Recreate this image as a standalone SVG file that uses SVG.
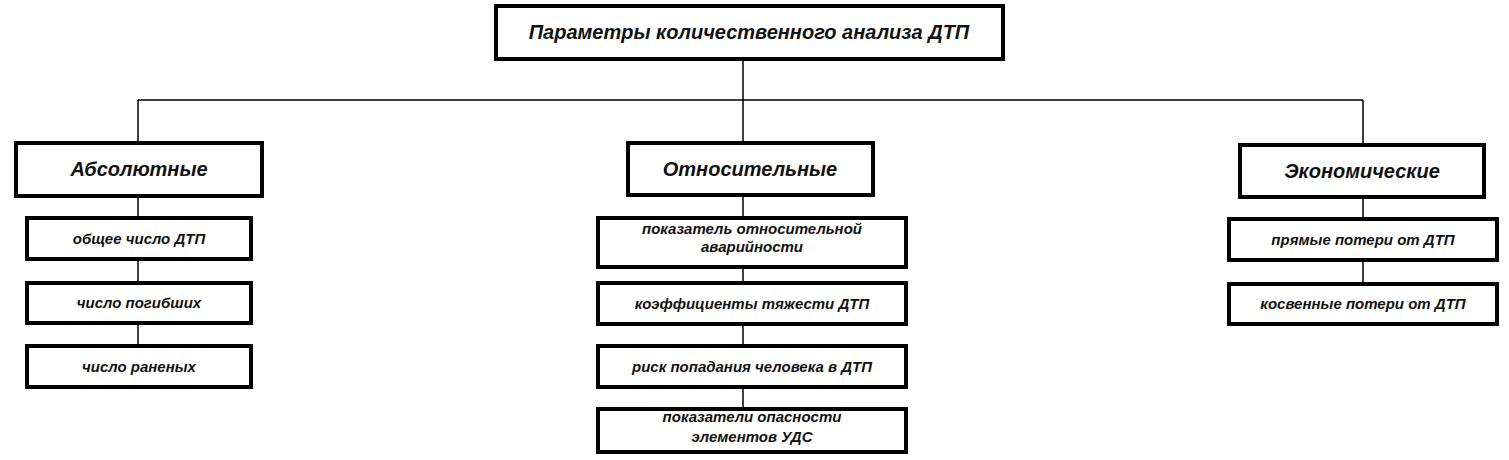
<svg xmlns="http://www.w3.org/2000/svg" width="1509" height="460" viewBox="0 0 1509 460">
<style>
rect{fill:#fff;stroke:#000;stroke-width:4}
.c{stroke:#000;stroke-width:1.5;fill:none}
text{font-family:"Liberation Sans",Arial,sans-serif;font-weight:bold;font-style:italic;text-anchor:middle;fill:#111}
.t{font-size:20px}.s{font-size:15px}
</style>
<rect width="1509" height="460" style="fill:#fff;stroke:none"/>
<g id="connectors">
<path class="c" d="M743 59V143M138 100H1363M138 100V143M1363 100V145M138 196V346M743 195V409M1363 197V284"/>
</g>
<g id="top"><rect x="496" y="6" width="507" height="53"/><text class="t" x="749" y="39">Параметры количественного анализа ДТП</text></g>
<g id="abs"><rect x="16" y="143" width="246" height="53"/><text class="t" x="139" y="176">Абсолютные</text></g>
<g id="rel"><rect x="628" y="143" width="245" height="52"/><text class="t" x="750" y="176">Относительные</text></g>
<g id="eco"><rect x="1240" y="145" width="244" height="52"/><text class="t" x="1362" y="178">Экономические</text></g>
<g id="a1"><rect x="27" y="218" width="224" height="41"/><text class="s" x="139" y="244">общее число ДТП</text></g>
<g id="a2"><rect x="27" y="283" width="224" height="40"/><text class="s" x="139" y="308">число погибших</text></g>
<g id="a3"><rect x="27" y="346" width="224" height="41"/><text class="s" x="139" y="372">число раненых</text></g>
<g id="r1"><rect x="598" y="218" width="308" height="49"/><text class="s" x="752" y="234">показатель относительной</text><text class="s" x="752" y="252">аварийности</text></g>
<g id="r2"><rect x="598" y="283" width="308" height="41"/><text class="s" x="752" y="309">коэффициенты тяжести ДТП</text></g>
<g id="r3"><rect x="598" y="346" width="308" height="41"/><text class="s" x="752" y="372">риск попадания человека в ДТП</text></g>
<g id="r4"><rect x="598" y="409" width="308" height="43"/><text class="s" x="752" y="422">показатели опасности</text><text class="s" x="752" y="442">элементов УДС</text></g>
<g id="e1"><rect x="1229" y="219" width="268" height="41"/><text class="s" x="1363" y="245">прямые потери от ДТП</text></g>
<g id="e2"><rect x="1229" y="284" width="268" height="40"/><text class="s" x="1363" y="309">косвенные потери от ДТП</text></g>
</svg>
